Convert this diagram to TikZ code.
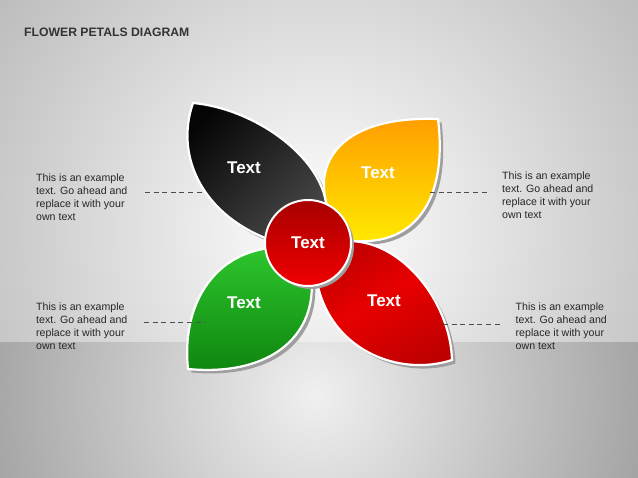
\documentclass[tikz,border=0pt]{standalone}
\usepackage{fontspec}
\setmainfont{Liberation Sans}
\usetikzlibrary{shadows}
\definecolor{titlegray}{HTML}{333333}
\definecolor{notegray}{HTML}{262626}
\definecolor{dashgray}{HTML}{4D4D4D}
\definecolor{leafdark}{HTML}{050505}
\definecolor{leafgrey}{HTML}{525252}
\definecolor{leaforange}{HTML}{FF9C00}
\definecolor{leafyellow}{HTML}{FFEE00}
\definecolor{leaflime}{HTML}{30CC30}
\definecolor{leafgreen}{HTML}{0E820E}
\definecolor{leafred}{HTML}{E80000}
\definecolor{leafmaroon}{HTML}{B40000}
\definecolor{hubtop}{HTML}{A80000}
\definecolor{hubbottom}{HTML}{F00000}
\begin{document}
\begin{tikzpicture}[x=1pt,y=-1pt,
    petal/.style={draw=white,line width=2.2pt},
    petalshadow/.style={fill=black!38,shift={(3.5,3.5)}},
    lbl/.style={text=white,font=\fontsize{17}{20}\selectfont\bfseries},
    hub/.style={circle,minimum size=86pt,draw=white,line width=2pt,
        top color=hubtop,bottom color=hubbottom,
        drop shadow={shadow xshift=3pt,shadow yshift=-3pt,fill=black!38,opacity=1}},
    note/.style={text=notegray,font=\fontsize{10.6}{13}\selectfont,align=left,anchor=north west,inner sep=0pt},
    leader/.style={draw=dashgray,line width=1pt,dash pattern=on 5pt off 3.6pt}]
    \useasboundingbox (0,0) rectangle (638,478);
    % backdrop and floor
    \begin{scope}
        \clip (0,0) rectangle (638,343);
        \shade[inner color=white,outer color=gray!55] (322,232) circle (420);
    \end{scope}
    \begin{scope}
        \clip (0,343) rectangle (638,478);
        \shade[inner color=gray!12,outer color=gray!80] (315,395) circle (380);
    \end{scope}
    \node[anchor=base west,inner sep=0pt,text=titlegray,font=\fontsize{12.2}{14}\selectfont\bfseries] (title) at (24,36.5) {FLOWER PETALS DIAGRAM};
    % petals
    \fill[petalshadow] (315,250) .. controls (220,240) and (170,170) .. (193,103) .. controls (270,110) and (360,185) .. cycle;
    \shade[petal,top color=leafdark,bottom color=leafgrey,shading angle=45] (315,250) .. controls (220,240) and (170,170) .. (193,103) .. controls (270,110) and (360,185) .. cycle;
    \fill[petalshadow] (345,240) .. controls (300,180) and (325,115) .. (438,119) .. controls (448,200) and (415,250) .. cycle;
    \shade[petal,top color=leaforange,bottom color=leafyellow] (345,240) .. controls (300,180) and (325,115) .. (438,119) .. controls (448,200) and (415,250) .. cycle;
    \fill[petalshadow] (305,250) .. controls (230,235) and (180,290) .. (188,369) .. controls (285,378) and (330,320) .. cycle;
    \shade[petal,top color=leaflime,bottom color=leafgreen] (305,250) .. controls (230,235) and (180,290) .. (188,369) .. controls (285,378) and (330,320) .. cycle;
    \fill[petalshadow] (315,250) .. controls (380,215) and (450,290) .. (452,360) .. controls (390,380) and (310,340) .. cycle;
    \shade[petal,top color=leafmaroon,bottom color=leafmaroon!80!leafred,middle color=leafred,shading angle=30] (315,250) .. controls (380,215) and (450,290) .. (452,360) .. controls (390,380) and (310,340) .. cycle;
    \node[hub,lbl] (hub) at (308,243) {Text};
    \node[lbl] (tBlack) at (244,168) {Text};
    \node[lbl] (tYellow) at (378,173) {Text};
    \node[lbl] (tGreen) at (244,303) {Text};
    \node[lbl] (tRed) at (384,301) {Text};
    % notes and leaders
    \node[note] (noteLT) at (36,174) {This is an example\\text. Go ahead and\\replace it with your\\own text};
    \node[note] (noteLB) at (36,302.7) {This is an example\\text. Go ahead and\\replace it with your\\own text};
    \node[note] (noteRT) at (502,171.7) {This is an example\\text. Go ahead and\\replace it with your\\own text};
    \node[note] (noteRB) at (515.5,302.7) {This is an example\\text. Go ahead and\\replace it with your\\own text};
    \coordinate (lLT) at (145,193); \coordinate (pLT) at (203,193);
    \coordinate (lLB) at (144,323); \coordinate (pLB) at (205,323);
    \coordinate (pRT) at (430,193); \coordinate (lRT) at (490,193);
    \coordinate (pRB) at (443,325); \coordinate (lRB) at (503,325);
    \draw[leader] (lLT) -- (pLT);
    \draw[leader] (lLB) -- (pLB);
    \draw[leader] (pRT) -- (lRT);
    \draw[leader] (pRB) -- (lRB);
\end{tikzpicture}
\end{document}
